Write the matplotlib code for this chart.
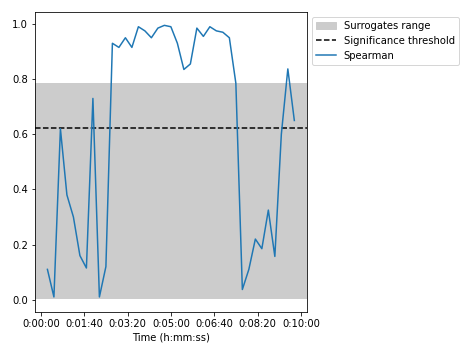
import datetime
import matplotlib
matplotlib.use("Agg")
import matplotlib.pyplot as plt
from matplotlib.ticker import FuncFormatter

# window centres in seconds (15 s steps)
times = [15 * (i + 1) for i in range(39)]
spearman = [0.11, 0.01, 0.62, 0.38, 0.30, 0.16, 0.115, 0.73, 0.01, 0.12,
            0.93, 0.915, 0.95, 0.915, 0.99, 0.975, 0.95, 0.985, 0.995, 0.99,
            0.93, 0.835, 0.855, 0.985, 0.955, 0.99, 0.975, 0.97, 0.95, 0.785,
            0.037, 0.11, 0.22, 0.185, 0.325, 0.157, 0.60, 0.837, 0.65]
surrogate_low = 0.006
surrogate_high = 0.785
threshold = 0.622

fig = plt.figure(figsize=(474 / 72, 355 / 72), dpi=72)
ax = fig.add_axes([0.074, 0.122, 0.573, 0.845])

ax.axhspan(surrogate_low, surrogate_high, color='0.8', label='Surrogates range')
ax.axhline(threshold, color='k', linestyle='--', label='Significance threshold')
ax.plot(times, spearman, color='tab:blue', label='Spearman')

ax.xaxis.set_major_formatter(FuncFormatter(lambda s, pos: str(datetime.timedelta(seconds=int(round(s))))))
ax.set_xlabel('Time (h:mm:ss)')
ax.legend(loc='upper left', bbox_to_anchor=(1, 1))

fig.savefig('out.png', dpi=72)
